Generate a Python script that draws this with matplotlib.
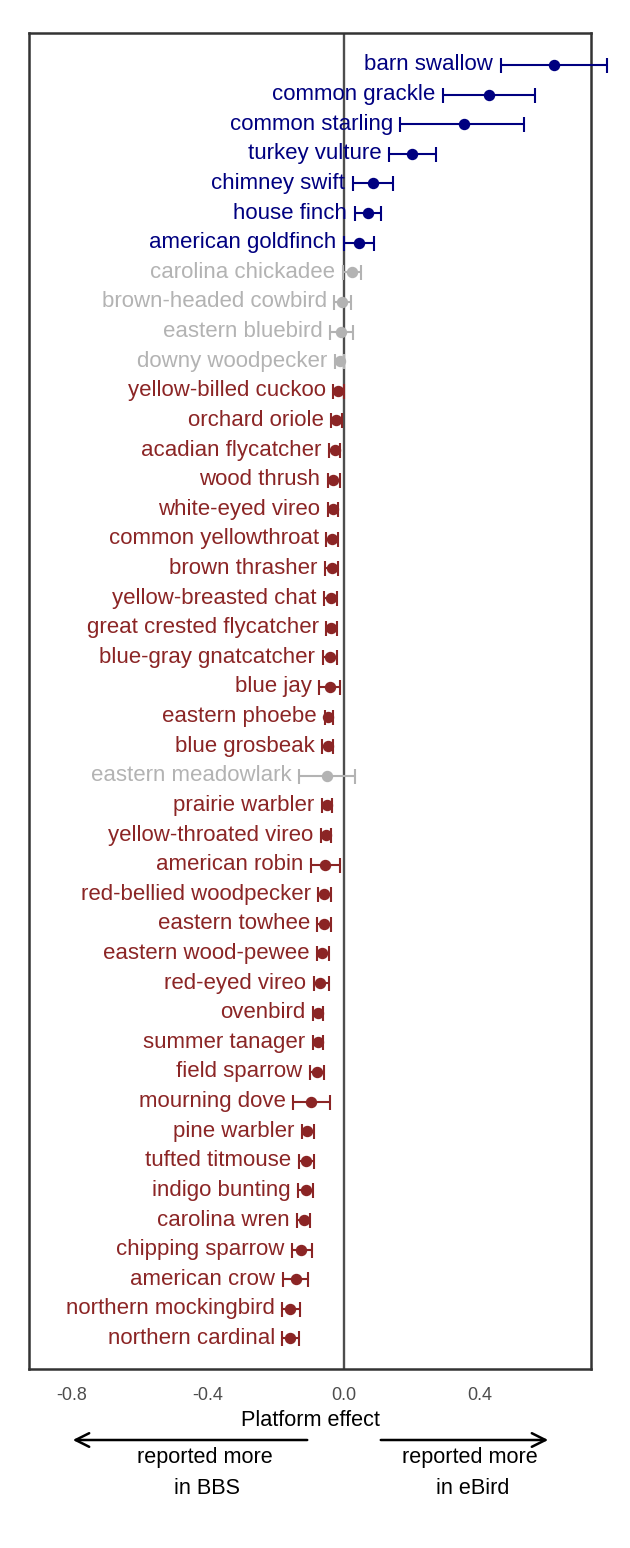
import matplotlib
matplotlib.use("Agg")
import matplotlib.pyplot as plt
import numpy as np

plt.rcParams['font.family'] = ['Liberation Sans', 'DejaVu Sans']

species = ["barn swallow", "common grackle", "common starling", "turkey vulture",
           "chimney swift", "house finch", "american goldfinch", "carolina chickadee",
           "brown-headed cowbird", "eastern bluebird", "downy woodpecker",
           "yellow-billed cuckoo", "orchard oriole", "acadian flycatcher", "wood thrush",
           "white-eyed vireo", "common yellowthroat", "brown thrasher",
           "yellow-breasted chat", "great crested flycatcher", "blue-gray gnatcatcher",
           "blue jay", "eastern phoebe", "blue grosbeak", "eastern meadowlark",
           "prairie warbler", "yellow-throated vireo", "american robin",
           "red-bellied woodpecker", "eastern towhee", "eastern wood-pewee",
           "red-eyed vireo", "ovenbird", "summer tanager", "field sparrow",
           "mourning dove", "pine warbler", "tufted titmouse", "indigo bunting",
           "carolina wren", "chipping sparrow", "american crow",
           "northern mockingbird", "northern cardinal"]

estimate = [0.618, 0.426, 0.355, 0.202, 0.085, 0.071, 0.045, 0.024, -0.004, -0.007,
            -0.012, -0.016, -0.022, -0.026, -0.030, -0.032, -0.034, -0.034, -0.037,
            -0.037, -0.041, -0.039, -0.047, -0.047, -0.049, -0.050, -0.052, -0.055,
            -0.057, -0.057, -0.064, -0.069, -0.075, -0.075, -0.078, -0.095, -0.107,
            -0.112, -0.112, -0.118, -0.125, -0.139, -0.157, -0.157]

lower = [0.462, 0.291, 0.167, 0.134, 0.027, 0.033, 0.002, -0.003, -0.027, -0.039,
         -0.025, -0.030, -0.037, -0.042, -0.047, -0.046, -0.051, -0.054, -0.057,
         -0.051, -0.061, -0.072, -0.056, -0.064, -0.130, -0.064, -0.066, -0.097,
         -0.075, -0.077, -0.079, -0.088, -0.090, -0.091, -0.099, -0.148, -0.123,
         -0.131, -0.134, -0.136, -0.151, -0.178, -0.181, -0.180]

upper = [0.773, 0.561, 0.530, 0.270, 0.144, 0.109, 0.089, 0.051, 0.022, 0.028,
         0.001, 0.002, -0.005, -0.010, -0.012, -0.016, -0.016, -0.016, -0.019,
         -0.019, -0.020, -0.010, -0.030, -0.030, 0.032, -0.034, -0.037, -0.012,
         -0.036, -0.037, -0.044, -0.042, -0.061, -0.061, -0.057, -0.039, -0.087,
         -0.086, -0.090, -0.100, -0.092, -0.104, -0.127, -0.131]

# direction: 'eBird' = more in eBird, 'BBS' = more in BBS, 'ns' = not significant
direction = (["eBird"] * 7 + ["ns"] * 4 + ["BBS"] * 13 + ["ns"] + ["BBS"] * 19)

colors = {"eBird": "#000080", "ns": "#B3B3B3", "BBS": "#8B2525"}

W, H = 630, 1548
fig = plt.figure(figsize=(W / 100, H / 100), dpi=100)
ax = fig.add_axes([29 / W, 1 - 1369 / H, (591 - 29) / W, (1369 - 33) / H])

n = len(species)
ypos = np.arange(n, 0, -1)

for i in range(n):
    c = colors[direction[i]]
    ax.errorbar([estimate[i]], [ypos[i]],
                xerr=[[estimate[i] - lower[i]], [upper[i] - estimate[i]]],
                fmt='o', color=c, ecolor=c, markersize=7.2, elinewidth=1.5,
                capsize=5.4, capthick=1.5, clip_on=False, zorder=3)
    ax.annotate(species[i], xy=(lower[i], ypos[i]), xytext=(-5.5, 0),
                textcoords='offset points', ha='right', va='center',
                fontsize=16, color=c, zorder=4)

ax.axvline(0, color="#4D4D4D", lw=1.7, zorder=2)

ax.set_xlim(-0.925, 0.727)
ax.set_ylim(-0.03, n + 1.08)
ax.set_yticks([])
ax.set_xticks([-0.8, -0.4, 0.0, 0.4])
ax.set_xticklabels(["-0.8", "-0.4", "0.0", "0.4"])
ax.tick_params(axis='x', length=0, pad=13, labelsize=13, labelcolor="#4D4D4D")
for s in ax.spines.values():
    s.set_color("#333333")
    s.set_linewidth(1.8)

def fy(py):
    return 1 - py / H

def fx(px):
    return px / W

fig.text(fx(310), fy(1420), "Platform effect", ha='center', va='center',
         fontsize=15.6, color='black')

arrow_kw = dict(arrowstyle='->,head_length=0.7,head_width=0.35', lw=1.8, color='black')
fig.add_artist(matplotlib.patches.FancyArrowPatch((fx(310), fy(1440)), (fx(70), fy(1440)),
               transform=fig.transFigure, mutation_scale=14, **arrow_kw))
fig.add_artist(matplotlib.patches.FancyArrowPatch((fx(378), fy(1440)), (fx(551), fy(1440)),
               transform=fig.transFigure, mutation_scale=14, **arrow_kw))

fig.text(fx(205), fy(1457), "reported more", ha='center', va='center', fontsize=15.6)
fig.text(fx(207), fy(1488), "in BBS", ha='center', va='center', fontsize=15.6)
fig.text(fx(470), fy(1457), "reported more", ha='center', va='center', fontsize=15.6)
fig.text(fx(473), fy(1488), "in eBird", ha='center', va='center', fontsize=15.6)

fig.savefig("out.png", dpi=100, facecolor='white')
